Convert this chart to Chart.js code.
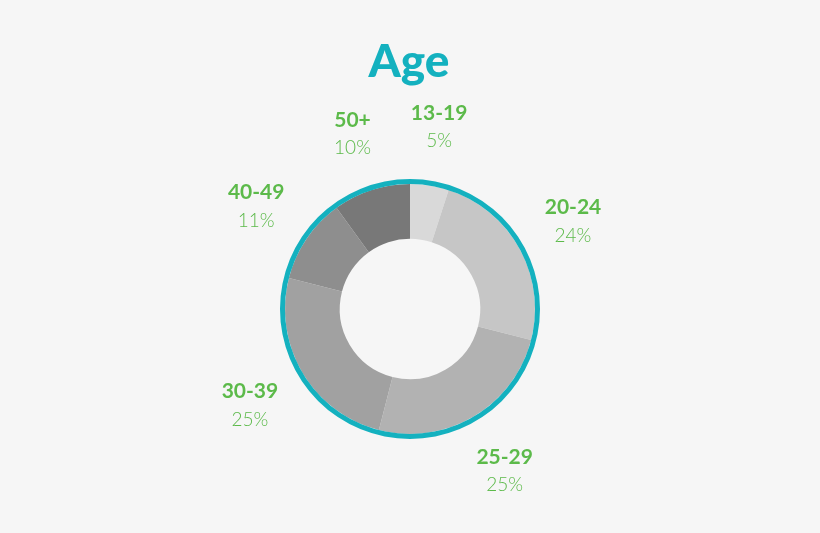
<!DOCTYPE html>
<html><head><meta charset="utf-8">
<script src="https://cdn.jsdelivr.net/npm/chart.js@4"></script>
<style>html,body{margin:0;background:#f6f6f6}#w{width:820px;height:533px}</style></head>
<body><div id="w"><canvas id="c"></canvas></div>
<script>
const categories=["13-19","20-24","25-29","30-39","40-49","50+"];
const values=[5,24,25,25,11,10];
const labels=["5%","24%","25%","25%","11%","10%"];
const colors=["#d9d9d9","#c6c6c6","#b2b2b2","#a1a1a1","#8e8e8e","#787878"];
const labelPlugin={id:'lbl',afterDraw(ch){
  const c=ch.ctx;const meta=ch.getDatasetMeta(1);
  c.save();c.textAlign='center';c.textBaseline='middle';
  c.fillStyle='#14b1bf';c.font='900 46px Lato';c.fillText('Age',409,62);
  meta.data.forEach((a,i)=>{
    const ang=(a.startAngle+a.endAngle)/2;const r=186;
    const x=a.x+Math.cos(ang)*r,y=a.y+Math.sin(ang)*r;
    c.fillStyle='#5cba4a';c.font='bold 21px Lato';c.fillText(categories[i],x,y-12);
    c.font='300 19px Lato';c.fillText(labels[i],x,y+16);
  });c.restore();}};
new Chart(document.getElementById('c'),{type:'doughnut',
 data:{labels:categories,datasets:[
  {data:[100],backgroundColor:['#14b1bf'],borderWidth:0,weight:5},
  {data:values,backgroundColor:colors,borderWidth:0,weight:55}]},
 options:{responsive:true,maintainAspectRatio:false,animation:false,cutout:'54%',
  layout:{padding:{top:179,bottom:94}},
  plugins:{legend:{display:false},tooltip:{enabled:false}}},
 plugins:[labelPlugin]});
</script></body></html>
